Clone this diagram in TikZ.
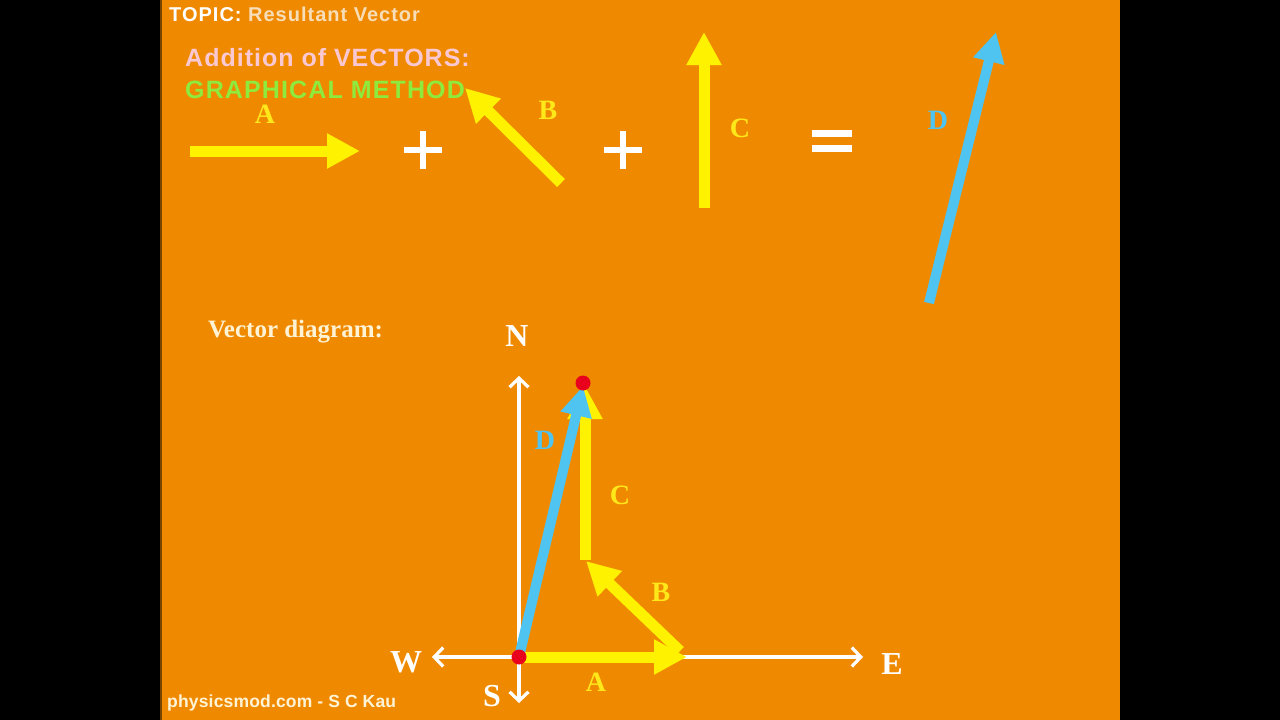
\documentclass[tikz,border=0pt]{standalone}
\usepackage{fontspec}
\setmainfont{Liberation Serif}
\newfontfamily\sansfam{Liberation Sans}
\usetikzlibrary{arrows.meta}
\definecolor{bgorange}{HTML}{EF8A00}
\definecolor{vyellow}{HTML}{FFF200}
\definecolor{vcyan}{HTML}{4FC4F0}
\definecolor{cream}{HTML}{FFF3D6}
\definecolor{peach}{HTML}{F7DDB8}
\definecolor{pinkt}{HTML}{F9C8D2}
\definecolor{greent}{HTML}{8EEA3C}
\definecolor{labyel}{HTML}{FFE81A}
\definecolor{dotred}{HTML}{E8001C}
\tikzset{
  vecY/.style={draw=vyellow, line width=11pt, -{Triangle[length=33pt,width=33pt]}},
  vecC/.style={draw=vcyan, line width=10pt, -{Triangle[length=30pt,width=30pt]}},
  axis/.style={draw=white, line width=3.2pt, -{Straight Barb[length=9pt,width=19pt,line width=3.2pt]}},
  serlab/.style={font=\fontsize{28}{30}\selectfont\bfseries, inner sep=0pt},
  dirlab/.style={font=\fontsize{32}{34}\selectfont\bfseries, text=white, inner sep=0pt},
  opsign/.style={draw=white, line width=6.5pt},
  reddot/.style={circle, fill=dotred, minimum size=15pt, inner sep=0pt},
}
\begin{document}
\begin{tikzpicture}[x=1pt,y=-1pt]
\useasboundingbox (0,0) rectangle (1280,720);
\fill[black] (0,0) rectangle (1280,720);
\fill[bgorange] (160,0) rectangle (1120,720);
\draw[line width=2pt, color=black!50!bgorange] (161,0) -- (161,720);

% titles
\node[anchor=west, inner sep=0pt, font=\sansfam\bfseries\fontsize{20}{22}\selectfont\addfontfeature{LetterSpace=5}] (topic) at (169,14)
  {\textcolor{white}{TOPIC:} \textcolor{peach}{Resultant Vector}};
\node[anchor=west, inner sep=0pt, text=pinkt, font=\sansfam\bfseries\fontsize{25}{28}\selectfont\addfontfeature{LetterSpace=4}] (addit) at (185,58) {Addition of VECTORS:};
\node[anchor=west, inner sep=0pt, text=greent, font=\sansfam\bfseries\fontsize{25}{28}\selectfont\addfontfeature{LetterSpace=4.5}] (graph) at (185,90) {GRAPHICAL METHOD};

% top row vectors
\coordinate (a1) at (190,151); \coordinate (a2) at (360,151);
\draw[vecY] (a1) -- (a2);
\node[serlab, text=labyel] (la) at (265,114) {A};

\coordinate (p1c) at (423,150);
\draw[opsign] ([xshift=-19pt]p1c) -- ([xshift=19pt]p1c);
\draw[opsign] ([yshift=-19pt]p1c) -- ([yshift=19pt]p1c);

\coordinate (b1) at (561,183); \coordinate (b2) at (465,88);
\draw[vecY] (b1) -- (b2);
\node[serlab, text=labyel] (lb) at (548,110) {B};

\coordinate (p2c) at (623,150);
\draw[opsign] ([xshift=-19pt]p2c) -- ([xshift=19pt]p2c);
\draw[opsign] ([yshift=-19pt]p2c) -- ([yshift=19pt]p2c);

\coordinate (c1) at (704,208); \coordinate (c2) at (704,32);
\draw[vecY] (c1) -- (c2);
\node[serlab, text=labyel] (lc) at (740,128) {C};

\coordinate (eqc) at (832,141);
\draw[opsign] ([xshift=-20pt,yshift=-7.5pt]eqc) -- ([xshift=20pt,yshift=-7.5pt]eqc);
\draw[opsign] ([xshift=-20pt,yshift=7.5pt]eqc) -- ([xshift=20pt,yshift=7.5pt]eqc);

\coordinate (d1) at (929,303); \coordinate (d2) at (996,32);
\draw[vecC] (d1) -- (d2);
\node[serlab, text=vcyan] (ld) at (938,120) {D};

% vector diagram
\node[anchor=west, inner sep=0pt, text=cream, font=\fontsize{25}{28}\selectfont\bfseries] (vd) at (208,332) {Vector diagram:};

\coordinate (O) at (519,657);
\coordinate (Ntip) at (519,376);
\coordinate (Wtip) at (432,657);
\coordinate (Etip) at (863,657);
\coordinate (Stip) at (519,703);
\draw[axis] (O) -- (Ntip);
\draw[axis] (O) -- (Wtip);
\draw[axis] (O) -- (Etip);
\draw[axis] (O) -- (Stip);
\node[dirlab] (nN) at (517,336) {N};
\node[dirlab] (nW) at (406,662) {W};
\node[dirlab] (nE) at (892,664) {E};
\node[dirlab] (nS) at (492,696) {S};

\coordinate (Atip) at (687,657);
\coordinate (Btail) at (680,651);
\coordinate (Btip) at (586,561);
\coordinate (Ctail) at (585,560);
\coordinate (Ctip) at (585,386);
\coordinate (Dtip) at (583,386);
\draw[vecY] (O) -- (Atip);
\draw[vecY] (Btail) -- (Btip);
\draw[vecY] (Ctail) -- (Ctip);
\draw[vecC] (O) -- (Dtip);
\node[reddot] (dot0) at (O) {};
\node[reddot] (dot1) at (583,383) {};

\node[serlab, text=labyel] (dA) at (596,682) {A};
\node[serlab, text=labyel] (dB) at (661,592) {B};
\node[serlab, text=labyel] (dC) at (620,495) {C};
\node[serlab, text=vcyan] (dD) at (545,440) {D};

% footer
\node[anchor=west, inner sep=0pt, text=cream, font=\sansfam\bfseries\fontsize{17.5}{20}\selectfont\addfontfeature{LetterSpace=1}] (foot) at (167,703) {physicsmod.com - S C Kau};
\end{tikzpicture}
\end{document}
